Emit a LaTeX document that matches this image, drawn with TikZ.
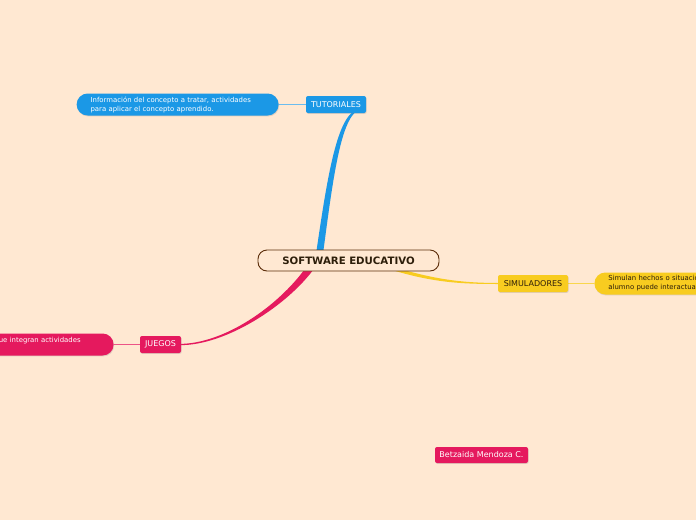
\documentclass[tikz,border=0pt]{standalone}
\usepackage{fontspec}
\setmainfont{DejaVu Sans}
\usetikzlibrary{positioning,calc,shadows}
\definecolor{paper}{RGB}{255,232,210}
\definecolor{tutblue}{RGB}{27,152,230}
\definecolor{simyellow}{RGB}{248,204,32}
\definecolor{juegpink}{RGB}{229,25,94}
\definecolor{rootbrown}{RGB}{92,45,10}
\definecolor{inkdark}{RGB}{45,30,10}
\pgfdeclarelayer{links}
\pgfsetlayers{links,main}
\tikzset{
  topic/.style={rounded corners=2pt,inner sep=0pt,minimum height=17pt,
    font=\fontsize{8}{9}\selectfont,
    drop shadow={shadow xshift=0.6pt,shadow yshift=-0.9pt,opacity=0.25}},
  note/.style={rounded corners=11pt,inner xsep=14pt,inner ysep=2pt,
    minimum height=22pt,align=left,font=\fontsize{6.9}{9}\selectfont,
    drop shadow={shadow xshift=0.6pt,shadow yshift=-0.9pt,opacity=0.25}}
}

\begin{document}
\begin{tikzpicture}[x=1pt,y=-1pt]
	\clip (0,0) rectangle (696,520);
	\useasboundingbox (0,0) rectangle (696,520);

	\node(soft)[draw=rootbrown,line width=0.9pt,fill=paper,rounded corners=9pt,
		minimum width=181pt,minimum height=21pt,inner sep=0pt,text=inkdark,
		font=\bfseries\fontsize{10.2}{11}\selectfont] at (348.5,260.5) {SOFTWARE EDUCATIVO};

	\node(tut)[topic,fill=tutblue,text=white,minimum width=60pt] at (336,104.5) {TUTORIALES};
	\node(tutnote)[note,fill=tutblue,text=white,text width=174pt,left=27pt of tut]
		{Información del concepto a tratar, actividades\\para aplicar el concepto aprendido.};

	\node(sim)[topic,fill=simyellow,text=inkdark,minimum width=70pt] at (533,283.5) {SIMULADORES};
	\node(simnote)[note,fill=simyellow,text=inkdark,text width=160pt,right=26pt of sim]
		{Simulan hechos o situaciones\\alumno puede interactuar};

	\node(juegos)[topic,fill=juegpink,text=white,minimum width=41pt] at (160.5,344.5) {JUEGOS};
	\node(juegnote)[note,fill=juegpink,text=white,inner xsep=33pt,align=right,
		text width=170pt,left=26pt of juegos] {Programas que integran actividades\\\mbox{}};

	\node(autor)[topic,fill=juegpink,text=white,minimum width=93pt,minimum height=16pt]
		at (481.5,455) {Betzaida Mendoza C.};

	\begin{pgfonlayer}{links}
	\fill[paper] (0,0) rectangle (696,520);
	% thin links
	\draw[tutblue!65!white,line width=1pt] (tut.west) -- (tutnote.east);
	\draw[simyellow!80!white,line width=0.8pt] (sim.east) -- (simnote.west);
	\draw[juegpink!75!white,line width=0.8pt] (juegos.west) -- (juegnote.east);
	% tapered branches
	\fill[tutblue] ($(soft.north)+(-33,8)$) .. controls +(11,-75) and +(-20,8) .. ($(tut.south)+(20,-3)$)
		-- ($(tut.south)+(22,-3)$) .. controls +(-18,10) and +(10,-75) .. ($(soft.north)+(-26,8)$) -- cycle;
	\fill[juegpink] ($(soft.south)+(-42.5,-4)$) .. controls +(-28,39) and +(45,0) .. ($(juegos.east)+(-2,-0.6)$)
		-- ($(juegos.east)+(-2,0.6)$) .. controls +(45,1) and +(-28,39) .. ($(soft.south)+(-33.5,-4)$) -- cycle;
	\fill[simyellow] ($(soft.south)+(40,-6)$) .. controls +(45,14) and +(-38,0) .. ($(sim.west)+(2,-0.5)$)
		-- ($(sim.west)+(2,0.5)$) .. controls +(-38,0) and +(45,14) .. ($(soft.south)+(40,-2.5)$) -- cycle;
	\end{pgfonlayer}
\end{tikzpicture}
\end{document}
